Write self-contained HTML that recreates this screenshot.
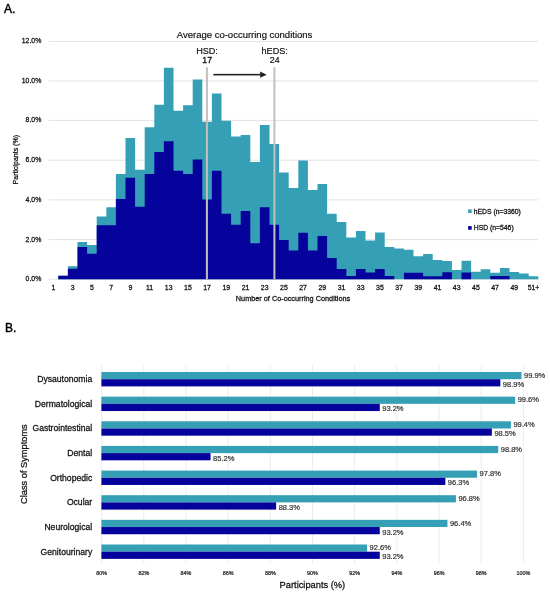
<!DOCTYPE html>
<html><head><meta charset="utf-8"><style>
html,body{margin:0;padding:0;background:#fff;}
body{width:550px;height:596px;overflow:hidden;}
svg{display:block;font-family:'Liberation Sans', sans-serif;will-change:transform;}
.c{stroke:#111;stroke-width:0.26px;fill:#111;}
.s{stroke:#222;stroke-width:0.22px;}
.t{stroke:#111;stroke-width:0.18px;}
.b{stroke:#111;stroke-width:0.3px;}
.h{stroke:#000;stroke-width:0.45px;}
.l{stroke:#333;stroke-width:0.2px;}
</style></head><body>
<svg width="550" height="596" viewBox="0 0 550 596">
<rect width="550" height="596" fill="#fff"/>
<rect x="48.5" y="40.90" width="489.8" height="1" fill="#e3e3e3"/>
<rect x="48.5" y="80.40" width="489.8" height="1" fill="#e3e3e3"/>
<rect x="48.5" y="119.90" width="489.8" height="1" fill="#e3e3e3"/>
<rect x="48.5" y="159.70" width="489.8" height="1" fill="#e3e3e3"/>
<rect x="48.5" y="199.40" width="489.8" height="1" fill="#e3e3e3"/>
<rect x="48.5" y="239.10" width="489.8" height="1" fill="#e3e3e3"/>
<rect x="48.5" y="278.70" width="489.8" height="1" fill="#e3e3e3"/>
<text x="41.3" y="43.40" text-anchor="end" font-size="6.9" class="c" fill="#222222">12.0%</text>
<text x="41.3" y="82.90" text-anchor="end" font-size="6.9" class="c" fill="#222222">10.0%</text>
<text x="41.3" y="122.40" text-anchor="end" font-size="6.9" class="c" fill="#222222">8.0%</text>
<text x="41.3" y="162.20" text-anchor="end" font-size="6.9" class="c" fill="#222222">6.0%</text>
<text x="41.3" y="201.90" text-anchor="end" font-size="6.9" class="c" fill="#222222">4.0%</text>
<text x="41.3" y="241.60" text-anchor="end" font-size="6.9" class="c" fill="#222222">2.0%</text>
<text x="41.3" y="281.20" text-anchor="end" font-size="6.9" class="c" fill="#222222">0.0%</text>
<path d="M48.70 279.20 L48.70 279.20 L58.30 279.20 L58.30 275.70 L67.90 275.70 L67.90 266.30 L77.50 266.30 L77.50 242.10 L87.10 242.10 L87.10 245.00 L96.70 245.00 L96.70 216.50 L106.30 216.50 L106.30 207.30 L115.90 207.30 L115.90 173.90 L125.50 173.90 L125.50 137.90 L135.10 137.90 L135.10 169.80 L144.70 169.80 L144.70 127.20 L154.30 127.20 L154.30 104.70 L163.90 104.70 L163.90 67.80 L173.50 67.80 L173.50 110.80 L183.10 110.80 L183.10 105.20 L192.70 105.20 L192.70 79.40 L202.30 79.40 L202.30 121.80 L211.90 121.80 L211.90 93.60 L221.50 93.60 L221.50 120.70 L231.10 120.70 L231.10 136.60 L240.70 136.60 L240.70 135.10 L250.30 135.10 L250.30 161.90 L259.90 161.90 L259.90 125.00 L269.50 125.00 L269.50 144.00 L279.10 144.00 L279.10 172.40 L288.70 172.40 L288.70 187.90 L298.30 187.90 L298.30 160.40 L307.90 160.40 L307.90 190.10 L317.50 190.10 L317.50 183.90 L327.10 183.90 L327.10 213.70 L336.70 213.70 L336.70 222.00 L346.30 222.00 L346.30 237.40 L355.90 237.40 L355.90 230.90 L365.50 230.90 L365.50 240.50 L375.10 240.50 L375.10 232.60 L384.70 232.60 L384.70 247.00 L394.30 247.00 L394.30 248.40 L403.90 248.40 L403.90 249.70 L413.50 249.70 L413.50 256.20 L423.10 256.20 L423.10 254.00 L432.70 254.00 L432.70 259.90 L442.30 259.90 L442.30 261.00 L451.90 261.00 L451.90 270.10 L461.50 270.10 L461.50 260.70 L471.10 260.70 L471.10 271.80 L480.70 271.80 L480.70 269.20 L490.30 269.20 L490.30 272.80 L499.90 272.80 L499.90 267.90 L509.50 267.90 L509.50 272.00 L519.10 272.00 L519.10 273.60 L528.70 273.60 L528.70 276.30 L538.30 276.30 L538.30 279.20 Z" fill="#35a0b5"/>
<path d="M48.70 279.20 L48.70 279.20 L58.30 279.20 L58.30 275.70 L67.90 275.70 L67.90 268.80 L77.50 268.80 L77.50 247.00 L87.10 247.00 L87.10 253.80 L96.70 253.80 L96.70 225.20 L106.30 225.20 L106.30 225.20 L115.90 225.20 L115.90 199.00 L125.50 199.00 L125.50 177.80 L135.10 177.80 L135.10 206.70 L144.70 206.70 L144.70 173.90 L154.30 173.90 L154.30 152.10 L163.90 152.10 L163.90 141.20 L173.50 141.20 L173.50 170.70 L183.10 170.70 L183.10 173.90 L192.70 173.90 L192.70 159.50 L202.30 159.50 L202.30 199.40 L211.90 199.40 L211.90 170.70 L221.50 170.70 L221.50 213.70 L231.10 213.70 L231.10 224.80 L240.70 224.80 L240.70 211.00 L250.30 211.00 L250.30 243.30 L259.90 243.30 L259.90 207.30 L269.50 207.30 L269.50 224.80 L279.10 224.80 L279.10 240.00 L288.70 240.00 L288.70 250.60 L298.30 250.60 L298.30 232.70 L307.90 232.70 L307.90 250.60 L317.50 250.60 L317.50 235.90 L327.10 235.90 L327.10 258.00 L336.70 258.00 L336.70 269.10 L346.30 269.10 L346.30 276.10 L355.90 276.10 L355.90 269.10 L365.50 269.10 L365.50 272.40 L375.10 272.40 L375.10 269.10 L384.70 269.10 L384.70 276.10 L394.30 276.10 L394.30 279.20 L403.90 279.20 L403.90 272.80 L413.50 272.80 L413.50 272.80 L423.10 272.80 L423.10 276.20 L432.70 276.20 L432.70 276.30 L442.30 276.30 L442.30 272.30 L451.90 272.30 L451.90 279.20 L461.50 279.20 L461.50 272.60 L471.10 272.60 L471.10 279.20 L480.70 279.20 L480.70 279.20 L490.30 279.20 L490.30 275.90 L499.90 275.90 L499.90 275.90 L509.50 275.90 L509.50 279.20 L519.10 279.20 L519.10 279.20 L528.70 279.20 L528.70 279.20 L538.30 279.20 L538.30 279.20 Z" fill="#05039c"/>
<rect x="205.90" y="67.3" width="2" height="211.90" fill="#c4c0bc"/>
<rect x="273.40" y="67.3" width="2" height="211.90" fill="#c4c0bc"/>
<rect x="213.3" y="73.85" width="48" height="1.6" fill="#222"/>
<path d="M260.2 71.6 L266.7 74.65 L260.2 77.8 Z" fill="#222"/>
<text x="176.8" y="37.8" font-size="9.5" class="t" fill="#111">Average co-occurring conditions</text>
<text x="207" y="53.7" text-anchor="middle" font-size="9.1" class="t" fill="#111">HSD:</text>
<text x="207.2" y="63" text-anchor="middle" font-size="8.8" class="b" fill="#111">17</text>
<text x="274.7" y="53.8" text-anchor="middle" font-size="9.1" class="t" fill="#111">hEDS:</text>
<text x="274.7" y="63.4" text-anchor="middle" font-size="8.8" class="t" fill="#111">24</text>
<text x="53.50" y="289.9" text-anchor="middle" font-size="6.9" class="c" fill="#222222">1</text>
<text x="72.70" y="289.9" text-anchor="middle" font-size="6.9" class="c" fill="#222222">3</text>
<text x="91.90" y="289.9" text-anchor="middle" font-size="6.9" class="c" fill="#222222">5</text>
<text x="111.10" y="289.9" text-anchor="middle" font-size="6.9" class="c" fill="#222222">7</text>
<text x="130.30" y="289.9" text-anchor="middle" font-size="6.9" class="c" fill="#222222">9</text>
<text x="149.50" y="289.9" text-anchor="middle" font-size="6.9" class="c" fill="#222222">11</text>
<text x="168.70" y="289.9" text-anchor="middle" font-size="6.9" class="c" fill="#222222">13</text>
<text x="187.90" y="289.9" text-anchor="middle" font-size="6.9" class="c" fill="#222222">15</text>
<text x="207.10" y="289.9" text-anchor="middle" font-size="6.9" class="c" fill="#222222">17</text>
<text x="226.30" y="289.9" text-anchor="middle" font-size="6.9" class="c" fill="#222222">19</text>
<text x="245.50" y="289.9" text-anchor="middle" font-size="6.9" class="c" fill="#222222">21</text>
<text x="264.70" y="289.9" text-anchor="middle" font-size="6.9" class="c" fill="#222222">23</text>
<text x="283.90" y="289.9" text-anchor="middle" font-size="6.9" class="c" fill="#222222">25</text>
<text x="303.10" y="289.9" text-anchor="middle" font-size="6.9" class="c" fill="#222222">27</text>
<text x="322.30" y="289.9" text-anchor="middle" font-size="6.9" class="c" fill="#222222">29</text>
<text x="341.50" y="289.9" text-anchor="middle" font-size="6.9" class="c" fill="#222222">31</text>
<text x="360.70" y="289.9" text-anchor="middle" font-size="6.9" class="c" fill="#222222">33</text>
<text x="379.90" y="289.9" text-anchor="middle" font-size="6.9" class="c" fill="#222222">35</text>
<text x="399.10" y="289.9" text-anchor="middle" font-size="6.9" class="c" fill="#222222">37</text>
<text x="418.30" y="289.9" text-anchor="middle" font-size="6.9" class="c" fill="#222222">39</text>
<text x="437.50" y="289.9" text-anchor="middle" font-size="6.9" class="c" fill="#222222">41</text>
<text x="456.70" y="289.9" text-anchor="middle" font-size="6.9" class="c" fill="#222222">43</text>
<text x="475.90" y="289.9" text-anchor="middle" font-size="6.9" class="c" fill="#222222">45</text>
<text x="495.10" y="289.9" text-anchor="middle" font-size="6.9" class="c" fill="#222222">47</text>
<text x="514.30" y="289.9" text-anchor="middle" font-size="6.9" class="c" fill="#222222">49</text>
<text x="533.50" y="289.9" text-anchor="middle" font-size="6.9" class="c" fill="#222222">51+</text>
<text x="293" y="301" text-anchor="middle" font-size="7.3" class="c" fill="#222222">Number of Co-occurring Conditions</text>
<text transform="translate(18.1 159.7) rotate(-90)" text-anchor="middle" font-size="7" class="c" fill="#222222">Participants (%)</text>
<rect x="468.1" y="209.4" width="3.6" height="3.6" fill="#35a0b5"/>
<text x="473.8" y="213.8" font-size="6.8" class="c" fill="#222222">hEDS (n=3360)</text>
<rect x="468.1" y="226.1" width="3.6" height="3.6" fill="#05039c"/>
<text x="473.8" y="230.2" font-size="6.8" class="c" fill="#222222">HSD (n=546)</text>
<text x="4" y="13.1" font-size="12" class="h" fill="#000">A.</text>
<text x="5" y="332.1" font-size="12" class="h" fill="#000">B.</text>
<rect x="101.16" y="365.5" width="1" height="197.8" fill="#ececec"/>
<text x="101.66" y="574.5" text-anchor="middle" font-size="5.4" class="s" fill="#222222">80%</text>
<rect x="143.33" y="365.5" width="1" height="197.8" fill="#ececec"/>
<text x="143.83" y="574.5" text-anchor="middle" font-size="5.4" class="s" fill="#222222">82%</text>
<rect x="185.50" y="365.5" width="1" height="197.8" fill="#ececec"/>
<text x="186.00" y="574.5" text-anchor="middle" font-size="5.4" class="s" fill="#222222">84%</text>
<rect x="227.68" y="365.5" width="1" height="197.8" fill="#ececec"/>
<text x="228.18" y="574.5" text-anchor="middle" font-size="5.4" class="s" fill="#222222">86%</text>
<rect x="269.85" y="365.5" width="1" height="197.8" fill="#ececec"/>
<text x="270.35" y="574.5" text-anchor="middle" font-size="5.4" class="s" fill="#222222">88%</text>
<rect x="312.02" y="365.5" width="1" height="197.8" fill="#ececec"/>
<text x="312.52" y="574.5" text-anchor="middle" font-size="5.4" class="s" fill="#222222">90%</text>
<rect x="354.19" y="365.5" width="1" height="197.8" fill="#ececec"/>
<text x="354.69" y="574.5" text-anchor="middle" font-size="5.4" class="s" fill="#222222">92%</text>
<rect x="396.36" y="365.5" width="1" height="197.8" fill="#ececec"/>
<text x="396.86" y="574.5" text-anchor="middle" font-size="5.4" class="s" fill="#222222">94%</text>
<rect x="438.54" y="365.5" width="1" height="197.8" fill="#ececec"/>
<text x="439.04" y="574.5" text-anchor="middle" font-size="5.4" class="s" fill="#222222">96%</text>
<rect x="480.71" y="365.5" width="1" height="197.8" fill="#ececec"/>
<text x="481.21" y="574.5" text-anchor="middle" font-size="5.4" class="s" fill="#222222">98%</text>
<rect x="522.88" y="365.5" width="1" height="197.8" fill="#ececec"/>
<text x="523.38" y="574.5" text-anchor="middle" font-size="5.4" class="s" fill="#222222">100%</text>
<rect x="101.4" y="372.00" width="420.09" height="7.2" fill="#35a0b5"/>
<rect x="101.4" y="379.20" width="398.94" height="7.2" fill="#05039c"/>
<text x="523.99" y="377.80" font-size="7.5" class="l" fill="#333">99.9%</text>
<text x="502.84" y="386.70" font-size="7.5" class="l" fill="#333">98.9%</text>
<text x="92.2" y="382.20" text-anchor="end" font-size="8.6" class="c" fill="#222">Dysautonomia</text>
<rect x="101.4" y="396.64" width="413.74" height="7.2" fill="#35a0b5"/>
<rect x="101.4" y="403.84" width="278.38" height="7.2" fill="#05039c"/>
<text x="517.64" y="402.44" font-size="7.5" class="l" fill="#333">99.6%</text>
<text x="382.28" y="411.34" font-size="7.5" class="l" fill="#333">93.2%</text>
<text x="92.2" y="406.84" text-anchor="end" font-size="8.6" class="c" fill="#222">Dermatological</text>
<rect x="101.4" y="421.28" width="409.51" height="7.2" fill="#35a0b5"/>
<rect x="101.4" y="428.48" width="390.48" height="7.2" fill="#05039c"/>
<text x="513.41" y="427.08" font-size="7.5" class="l" fill="#333">99.4%</text>
<text x="494.38" y="435.98" font-size="7.5" class="l" fill="#333">98.5%</text>
<text x="92.2" y="431.48" text-anchor="end" font-size="8.6" class="c" fill="#222">Gastrointestinal</text>
<rect x="101.4" y="445.92" width="396.82" height="7.2" fill="#35a0b5"/>
<rect x="101.4" y="453.12" width="109.18" height="7.2" fill="#05039c"/>
<text x="500.72" y="451.72" font-size="7.5" class="l" fill="#333">98.8%</text>
<text x="213.08" y="460.62" font-size="7.5" class="l" fill="#333">85.2%</text>
<text x="92.2" y="456.12" text-anchor="end" font-size="8.6" class="c" fill="#222">Dental</text>
<rect x="101.4" y="470.56" width="375.67" height="7.2" fill="#35a0b5"/>
<rect x="101.4" y="477.76" width="343.94" height="7.2" fill="#05039c"/>
<text x="479.57" y="476.36" font-size="7.5" class="l" fill="#333">97.8%</text>
<text x="447.84" y="485.26" font-size="7.5" class="l" fill="#333">96.3%</text>
<text x="92.2" y="480.76" text-anchor="end" font-size="8.6" class="c" fill="#222">Orthopedic</text>
<rect x="101.4" y="495.20" width="354.52" height="7.2" fill="#35a0b5"/>
<rect x="101.4" y="502.40" width="174.74" height="7.2" fill="#05039c"/>
<text x="458.42" y="501.00" font-size="7.5" class="l" fill="#333">96.8%</text>
<text x="278.64" y="509.90" font-size="7.5" class="l" fill="#333">88.3%</text>
<text x="92.2" y="505.40" text-anchor="end" font-size="8.6" class="c" fill="#222">Ocular</text>
<rect x="101.4" y="519.84" width="346.06" height="7.2" fill="#35a0b5"/>
<rect x="101.4" y="527.04" width="278.38" height="7.2" fill="#05039c"/>
<text x="449.96" y="525.64" font-size="7.5" class="l" fill="#333">96.4%</text>
<text x="382.28" y="534.54" font-size="7.5" class="l" fill="#333">93.2%</text>
<text x="92.2" y="530.04" text-anchor="end" font-size="8.6" class="c" fill="#222">Neurological</text>
<rect x="101.4" y="544.48" width="265.69" height="7.2" fill="#35a0b5"/>
<rect x="101.4" y="551.68" width="278.38" height="7.2" fill="#05039c"/>
<text x="369.59" y="550.28" font-size="7.5" class="l" fill="#333">92.6%</text>
<text x="382.28" y="559.18" font-size="7.5" class="l" fill="#333">93.2%</text>
<text x="92.2" y="554.68" text-anchor="end" font-size="8.6" class="c" fill="#222">Genitourinary</text>
<text transform="translate(27.4 464.1) rotate(-90)" text-anchor="middle" font-size="9.25" class="c" fill="#222">Class of Symptoms</text>
<text x="312.4" y="587.8" text-anchor="middle" font-size="9.3" class="c" fill="#222">Participants (%)</text>
</svg>
</body></html>
